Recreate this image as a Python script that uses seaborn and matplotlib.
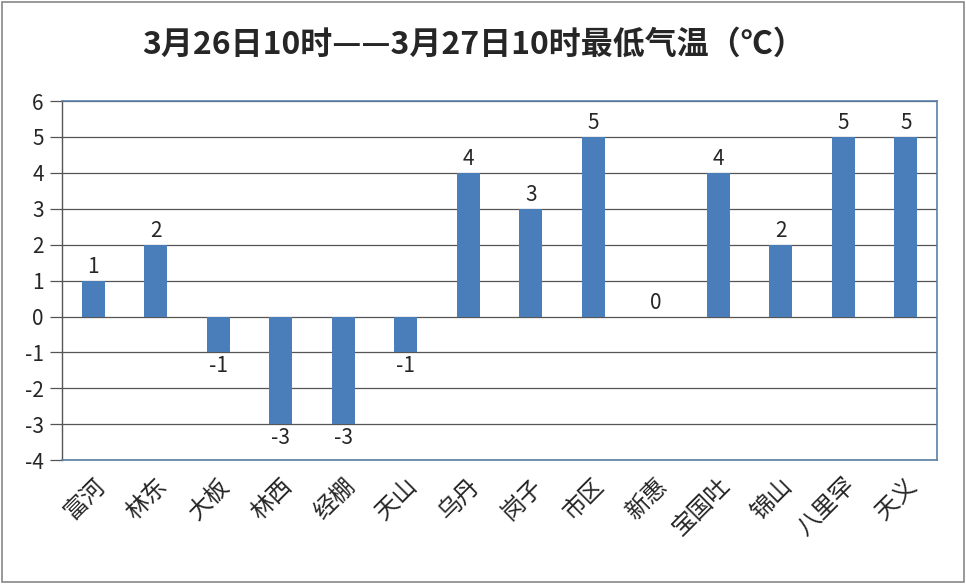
import pandas as pd
import seaborn as sns
import matplotlib.pyplot as plt
from matplotlib.patches import Rectangle

stations = ['富河', '林东', '大板', '林西', '经棚', '天山', '乌丹',
            '岗子', '市区', '新惠', '宝国吐', '锦山', '八里罕', '天义']
min_temp = [1, 2, -1, -3, -3, -1, 4, 3, 5, 0, 4, 2, 5, 5]
y_ticks = [-4, -3, -2, -1, 0, 1, 2, 3, 4, 5, 6]
title = '3月26日10时——3月27日10时最低气温（℃）'

df = pd.DataFrame({'station': stations, 'temp': min_temp})

sns.set_theme(style='white')
plt.rcParams['font.family'] = ['Noto Sans CJK SC', 'DejaVu Sans']

fig = plt.figure(figsize=(9.66, 5.84), dpi=100)
ax = fig.add_axes([0.064, 0.212, 0.906, 0.615])

sns.barplot(data=df, x='station', y='temp', color='#4a7ebb',
            saturation=1, width=0.37, linewidth=0, ax=ax)

ax.set_ylim(-4, 6)
ax.set_yticks(y_ticks)
ax.set_yticklabels([str(t) for t in y_ticks], fontsize=15)
ax.yaxis.grid(True, color='#555555', linewidth=0.9)
ax.set_axisbelow(True)
ax.tick_params(axis='y', direction='out', length=9, width=0.9,
               color='#555555', left=True, pad=4)
ax.tick_params(axis='x', length=0, pad=10)
ax.set_xlabel('')
ax.set_ylabel('')

for lbl in ax.get_xticklabels():
    lbl.set_rotation(45)
    lbl.set_ha('right')
    lbl.set_va('top')
    lbl.set_rotation_mode('anchor')
    lbl.set_fontsize(17)

for side in ['top', 'right', 'bottom']:
    ax.spines[side].set_color('#5a7fa8')
    ax.spines[side].set_linewidth(1.2)
ax.spines['left'].set_color('#555555')
ax.spines['left'].set_linewidth(1.0)

for i, v in enumerate(min_temp):
    if v >= 0:
        ax.text(i, v + 0.08, str(v), ha='center', va='bottom', fontsize=15)
    else:
        ax.text(i, v - 0.08, str(v), ha='center', va='top', fontsize=15)

fig.suptitle(title, x=0.49, y=0.95, fontsize=23, fontweight='bold')

fig.patches.append(Rectangle((0.002, 0.003), 0.996, 0.994, transform=fig.transFigure,
                             fill=False, edgecolor='#888888', linewidth=1.2))

fig.savefig('out.png', dpi=100)
